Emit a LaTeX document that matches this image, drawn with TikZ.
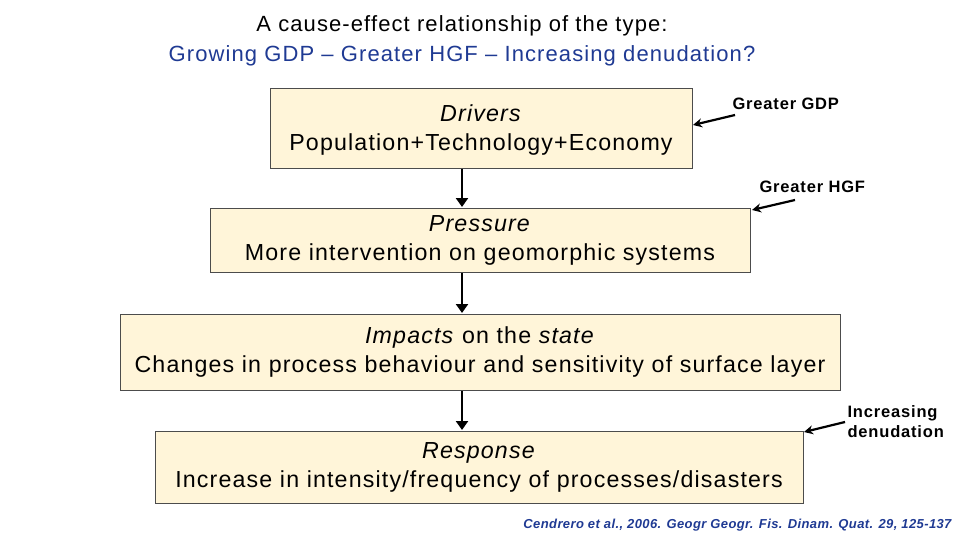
\documentclass[tikz,border=0pt]{standalone}
\usepackage{fontspec}
\setmainfont{Liberation Sans}[LetterSpace=5]
\newfontfamily\citefont{Liberation Sans}[LetterSpace=3]
\usetikzlibrary{arrows.meta}
\definecolor{boxfill}{HTML}{FFF5D9}
\definecolor{titleblue}{HTML}{1F3A93}
\begin{document}
\begin{tikzpicture}[x=1pt,y=-1pt,
  stage/.style={draw=black!70,fill=boxfill,line width=0.8pt,align=center,font=\fontsize{23.2}{29}\selectfont,inner sep=0pt},
  flow/.style={line width=2.5pt,-{Triangle[length=9pt,width=12pt]}},
  side/.style={line width=2.2pt,-{Stealth[length=9pt,width=9pt]}},
  lbl/.style={font=\bfseries\fontsize{16.5}{20}\selectfont,align=left,anchor=west}]
\useasboundingbox (0,0) rectangle (960,540);
\node (t1) at (462,26) {\fontsize{22}{24}\selectfont A cause-effect relationship of the type:};
\node[text=titleblue] (t2) at (462,56) {\fontsize{22}{24}\selectfont Growing GDP -- Greater HGF -- Increasing denudation?};
\node[stage,minimum width=422pt,minimum height=80pt] (d) at (481,128) {};
\node (dt) at (481,130) {\fontsize{23.2}{29}\selectfont\begin{tabular}{@{}c@{}}\textit{Drivers}\\Population+Technology+Economy\end{tabular}};
\node[stage,minimum width=540pt,minimum height=64pt] (p) at (480,240) {\textit{Pressure}\\More intervention on geomorphic systems};
\node[stage,minimum width=720pt,minimum height=76pt] (i) at (480,352) {\textit{Impacts} on the \textit{state}\\Changes in process behaviour and sensitivity of surface layer};
\node[stage,minimum width=648pt,minimum height=72pt] (r) at (479,467) {\textit{Response}\\Increase in intensity/frequency of processes/disasters};
\draw[flow] (462,169) -- (462,207);
\draw[flow] (462,273) -- (462,313);
\draw[flow] (462,391) -- (462,430);
\node[lbl] (g1) at (729,104) {Greater GDP};
\node[lbl] (g2) at (756,187) {Greater HGF};
\node[lbl] (g3) at (844,422) {Increasing\\denudation};
\coordinate (a1) at (693,125);
\coordinate (a2) at (752,210);
\coordinate (a3) at (804,432);
\draw[side] (735,115) -- (a1);
\draw[side] (795,200) -- (a2);
\draw[side] (845,422) -- (a3);
\node[text=titleblue,anchor=east] (c) at (955,525) {\citefont\bfseries\itshape\fontsize{13}{15}\selectfont Cendrero et al., 2006. Geogr Geogr. Fis. Dinam. Quat. 29, 125-137};
\end{tikzpicture}
\end{document}
